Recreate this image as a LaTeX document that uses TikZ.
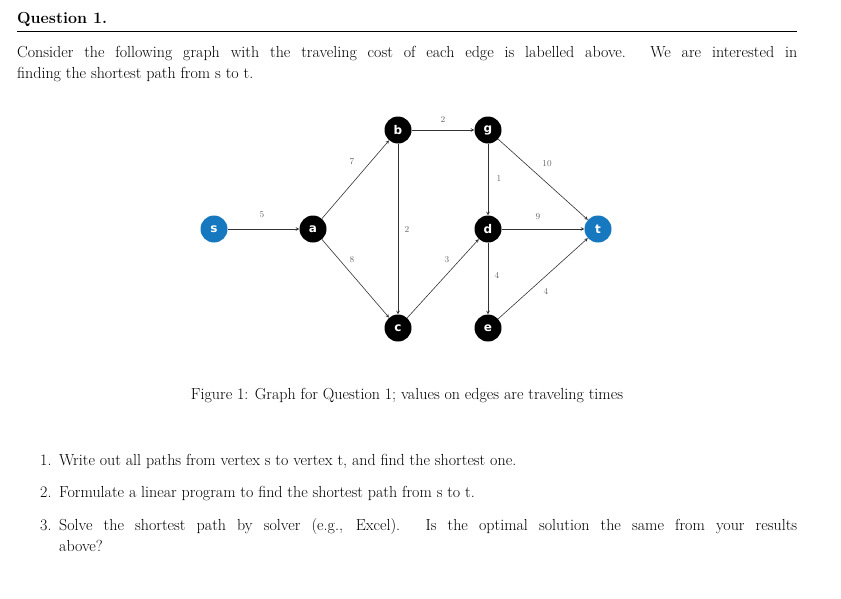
\documentclass[tikz,border=0pt]{standalone}
\usepackage{fontspec}
\newfontfamily\lab{DejaVu Sans}
\begin{document}
\begin{tikzpicture}[x=1pt,y=-1pt,
  vtx/.style={circle,fill=black,text=white,minimum size=27pt,inner sep=0pt,font=\lab\bfseries\fontsize{12}{12}\selectfont},
  term/.style={vtx,fill=cyan!60!blue!80!black},
  edge/.style={->,>=stealth,draw=black!80,line width=0.6pt},
  wt/.style={text=black!60,font=\fontsize{9}{9}\selectfont,inner sep=0pt},
  body/.style={anchor=base west,inner sep=0pt,font=\fontsize{16}{19}\selectfont}]
\useasboundingbox (0,0) rectangle (841,598);
\node[body,font=\bfseries\fontsize{16}{19}\selectfont] (title) at (17,23) {Question 1.};
\draw[line width=0.6pt] (17,31) -- (797,31);
\node[body] (l1) at (17,57) {\makebox[780pt][s]{Consider the following graph with the traveling cost of each edge is labelled above. We are interested in}};
\node[body] (l2) at (17,78) {finding the shortest path from s to t.};
\definecolor{tb}{RGB}{22,120,190}
\node[vtx,fill=tb] (s) at (214,229) {s};
\node[vtx] (a) at (313,229) {a};
\node[vtx] (b) at (398,130) {b};
\node[vtx] (g) at (488,130) {g};
\node[vtx] (d) at (488,229) {d};
\node[vtx,fill=tb] (t) at (598,229) {t};
\node[vtx] (c) at (398,328) {c};
\node[vtx] (e) at (488,328) {e};
\draw[edge] (s) -- (a);
\draw[edge] (a) -- (b);
\draw[edge] (a) -- (c);
\draw[edge] (b) -- (g);
\draw[edge] (b) -- (c);
\draw[edge] (c) -- (d);
\draw[edge] (g) -- (d);
\draw[edge] (g) -- (t);
\draw[edge] (d) -- (t);
\draw[edge] (d) -- (e);
\draw[edge] (e) -- (t);
\node[wt] (w1) at (443,119) {2};
\node[wt] (w2) at (352,162) {7};
\node[wt] (w3) at (547,164) {10};
\node[wt] (w4) at (499,178) {1};
\node[wt] (w5) at (262,215) {5};
\node[wt] (w6) at (538,217) {9};
\node[wt] (w7) at (407,229) {2};
\node[wt] (w8) at (352,260) {8};
\node[wt] (w9) at (447,260) {3};
\node[wt] (w10) at (497,275) {4};
\node[wt] (w11) at (546,291) {4};
\node[anchor=base,inner sep=0pt,font=\fontsize{16}{19}\selectfont] (cap) at (407,399) {Figure 1: Graph for Question 1; values on edges are traveling times};
\node[body] (n1) at (40,465) {1.};
\node[body] (i1) at (59,465) {Write out all paths from vertex s to vertex t, and find the shortest one.};
\node[body] (n2) at (40,497) {2.};
\node[body] (i2) at (59,497) {Formulate a linear program to find the shortest path from s to t.};
\node[body] (n3) at (40,530) {3.};
\node[body] (i3) at (59,530) {\makebox[738pt][s]{Solve the shortest path by solver (e.g., Excel). Is the optimal solution the same from your results}};
\node[body] (i3b) at (59,551) {above?};
\end{tikzpicture}
\end{document}
